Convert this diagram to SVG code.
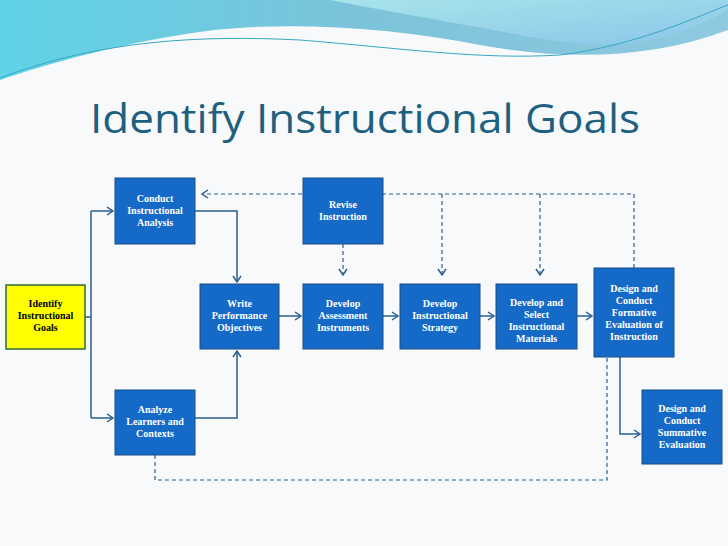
<svg xmlns="http://www.w3.org/2000/svg" width="728" height="546" viewBox="0 0 728 546">
<defs>
<linearGradient id="g1" x1="0" y1="0" x2="1" y2="0"><stop offset="0" stop-color="#5fd3e6"/><stop offset="0.5" stop-color="#7cc3da"/><stop offset="1" stop-color="#8fc9e0"/></linearGradient>
<linearGradient id="g2" x1="0" y1="0" x2="1" y2="1"><stop offset="0" stop-color="#a8e4ea"/><stop offset="1" stop-color="#8cc6ea"/></linearGradient>
<marker id="a" markerWidth="10" markerHeight="10" refX="8" refY="5" orient="auto" markerUnits="userSpaceOnUse"><path d="M2,1 L8,5 L2,9" fill="none" stroke="#2a5f8f" stroke-width="1.5"/></marker>
</defs>
<style>
.b{fill:#1569c7;stroke:#1a4f8a;stroke-width:1}
.t{font-family:"Liberation Serif",serif;font-size:10px;font-weight:bold;fill:#fff;text-anchor:middle}
.c{fill:none;stroke:#2a5f8f;stroke-width:1.5}
.d{fill:none;stroke:#2a5f8f;stroke-width:1.2;stroke-dasharray:4,3}
</style>
<rect width="728" height="546" fill="#f7f9fb"/>
<path d="M0,0 H728 V30 C650,60 560,60 480,45 C380,25 260,20 180,35 C90,50 30,70 0,80 Z" fill="url(#g1)"/>
<path d="M330,0 H728 V10 C660,50 600,50 520,35 C440,20 380,10 330,0 Z" fill="url(#g2)"/>
<path d="M0,78 C100,40 200,35 300,40 C400,48 480,60 560,55 C640,45 700,15 728,5" fill="none" stroke="#3aa5c5" stroke-width="1"/>
<text x="90" y="133" font-family="'Open Sans',sans-serif" font-size="40" fill="#1f5f7f" textLength="550" lengthAdjust="spacingAndGlyphs">Identify Instructional Goals</text>
<g id="connectors">
<path class="c" d="M85,317 H91 M91,211 V418"/>
<path class="c" d="M91,211 H113" marker-end="url(#a)"/>
<path class="c" d="M91,418 H113" marker-end="url(#a)"/>
<path class="c" d="M195,211 H237 V282" marker-end="url(#a)"/>
<path class="c" d="M195,418 H237 V351" marker-end="url(#a)"/>
<path class="c" d="M279,316 H301" marker-end="url(#a)"/>
<path class="c" d="M383,316 H398" marker-end="url(#a)"/>
<path class="c" d="M480,316 H494" marker-end="url(#a)"/>
<path class="c" d="M577,316 H592" marker-end="url(#a)"/>
<path class="c" d="M620,357 V434 H640" marker-end="url(#a)"/>
<path class="d" d="M634,268 V194 H202" marker-end="url(#a)"/>
<path class="d" d="M343,244 V275" marker-end="url(#a)"/>
<path class="d" d="M442,194 V275" marker-end="url(#a)"/>
<path class="d" d="M540,194 V275" marker-end="url(#a)"/>
<path class="d" d="M155,455 V480 H607 V357"/>
</g>
<g id="identify"><rect x="6" y="285" width="79" height="64" fill="#ffff00" stroke="#2e6b3a" stroke-width="1.5"/>
<text class="t" style="fill:#000" x="45.5" y="307">Identify<tspan x="45.5" dy="12">Instructional</tspan><tspan x="45.5" dy="12">Goals</tspan></text></g>
<g id="conduct"><rect class="b" x="115" y="178" width="80" height="66"/><text class="t" x="155" y="202">Conduct<tspan x="155" dy="12">Instructional</tspan><tspan x="155" dy="12">Analysis</tspan></text></g>
<g id="revise"><rect class="b" x="303" y="178" width="80" height="66"/><text class="t" x="343" y="208">Revise<tspan x="343" dy="12">Instruction</tspan></text></g>
<g id="write"><rect class="b" x="200" y="284" width="79" height="65"/><text class="t" x="239.5" y="307">Write<tspan x="239.5" dy="12">Performance</tspan><tspan x="239.5" dy="12">Objectives</tspan></text></g>
<g id="assess"><rect class="b" x="303" y="284" width="80" height="65"/><text class="t" x="343" y="307">Develop<tspan x="343" dy="12">Assessment</tspan><tspan x="343" dy="12">Instruments</tspan></text></g>
<g id="strategy"><rect class="b" x="400" y="284" width="80" height="65"/><text class="t" x="440" y="307">Develop<tspan x="440" dy="12">Instructional</tspan><tspan x="440" dy="12">Strategy</tspan></text></g>
<g id="materials"><rect class="b" x="496" y="284" width="81" height="65"/><text class="t" x="536.5" y="306">Develop and<tspan x="536.5" dy="12">Select</tspan><tspan x="536.5" dy="12">Instructional</tspan><tspan x="536.5" dy="12">Materials</tspan></text></g>
<g id="formative"><rect class="b" x="594" y="268" width="80" height="89"/><text class="t" x="634" y="292">Design and<tspan x="634" dy="12">Conduct</tspan><tspan x="634" dy="12">Formative</tspan><tspan x="634" dy="12">Evaluation of</tspan><tspan x="634" dy="12">Instruction</tspan></text></g>
<g id="analyze"><rect class="b" x="115" y="390" width="80" height="65"/><text class="t" x="155" y="413">Analyze<tspan x="155" dy="12">Learners and</tspan><tspan x="155" dy="12">Contexts</tspan></text></g>
<g id="summative"><rect class="b" x="642" y="390" width="80" height="74"/><text class="t" x="682" y="412">Design and<tspan x="682" dy="12">Conduct</tspan><tspan x="682" dy="12">Summative</tspan><tspan x="682" dy="12">Evaluation</tspan></text></g>
</svg>
